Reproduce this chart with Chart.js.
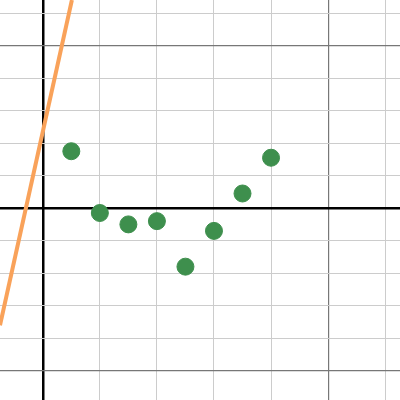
<!DOCTYPE html>
<html><head><style>html,body{margin:0;padding:0;background:#fff}</style>
<script src="https://cdn.jsdelivr.net/npm/chart.js@4"></script></head>
<body><canvas id="c" width="400" height="400"></canvas>
<script>
const pointX=[0.5,1,1.5,2,2.5,3,3.5,4];
const pointY=[1.75,-0.15,-0.5,-0.4,-1.8,-0.7,0.45,1.55];
const lineX=[-0.75,0.51];
const lineY=[-3.6,6.4];
const xRange=[-0.75,6.26], yRange=[-5.9,6.4];
function intTicks(s){const t=[];for(let v=Math.ceil(s.min);v<=Math.floor(s.max);v++)t.push({value:v});s.ticks=t;}
function gc(c){const v=c.tick.value;if(v===0)return '#000';if(v%5===0)return '#777';return '#ccc';}
function gw(c){const v=c.tick.value;if(v===0)return 2.5;if(v%5===0)return 1.2;return 1;}
const grid={color:gc,lineWidth:gw,drawTicks:false};
new Chart(document.getElementById('c'),{type:'scatter',
data:{datasets:[
{data:lineX.map((x,i)=>({x,y:lineY[i]})),showLine:true,borderColor:'#f9a25a',borderWidth:4,pointRadius:0,order:2},
{data:pointX.map((x,i)=>({x,y:pointY[i]})),backgroundColor:'#3e8f4d',borderColor:'#3e8f4d',pointRadius:8.5,order:1}
]},
options:{responsive:false,animation:false,layout:{padding:0,autoPadding:false},
plugins:{legend:{display:false},tooltip:{enabled:false}},
scales:{
x:{type:'linear',min:xRange[0],max:xRange[1],afterBuildTicks:intTicks,ticks:{display:false,padding:0},grid,border:{display:false}},
y:{type:'linear',min:yRange[0],max:yRange[1],afterBuildTicks:intTicks,ticks:{display:false,padding:0},grid,border:{display:false}}
}}});
</script></body></html>
